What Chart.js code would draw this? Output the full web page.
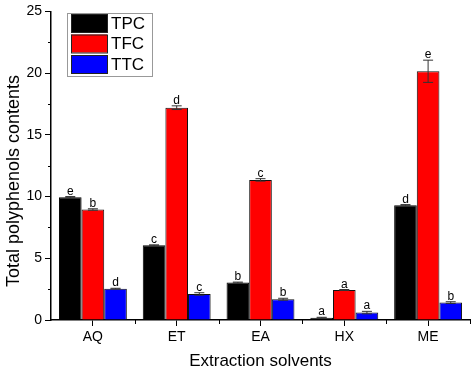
<!DOCTYPE html>
<html lang="en">
<head>
<meta charset="UTF-8" />
<title>Total polyphenols contents</title>
<script src="https://cdn.jsdelivr.net/npm/chart.js"></script>
<style>
  html, body { margin: 0; padding: 0; background: #fff; }
  #wrap { width: 474px; height: 389px; }
</style>
</head>
<body>
<div id="wrap"><canvas id="chart" width="474" height="389"></canvas></div>
<script>
  const solvents = ['AQ', 'ET', 'EA', 'HX', 'ME'];
  const seriesNames = ['TPC', 'TFC', 'TTC'];
  const tpc = [9.95, 6.05, 3.03, 0.19, 9.3];
  const tfc = [8.95, 17.2, 11.35, 2.43, 20.15];
  const ttc = [2.54, 2.11, 1.68, 0.6, 1.41];
  const tpcErr = [0.05, 0.04, 0.04, 0.03, 0.05];
  const tfcErr = [0.06, 0.15, 0.1, 0.04, 0.9];
  const ttcErr = [0.03, 0.1, 0.08, 0.1, 0.07];
  const tpcLetters = ['e', 'c', 'b', 'a', 'd'];
  const tfcLetters = ['b', 'd', 'c', 'a', 'e'];
  const ttcLetters = ['d', 'c', 'b', 'a', 'b'];
  const yTicks = [0, 5, 10, 15, 20, 25];
  const yMinorTicks = [2.5, 7.5, 12.5, 17.5, 22.5];

  const FONT = 'Arial, "Liberation Sans", sans-serif';
  const colors = ['#000000', '#ff0000', '#0000ff'];
  const errors = [tpcErr, tfcErr, ttcErr];
  const letters = [tpcLetters, tfcLetters, ttcLetters];

  // error bars, significance letters, minor ticks, y title and legend box
  const extras = {
    id: 'extras',
    afterDatasetsDraw(chart) {
      const ctx = chart.ctx;
      const y = chart.scales.y;
      ctx.save();
      chart.data.datasets.forEach((ds, i) => {
        const meta = chart.getDatasetMeta(i);
        meta.data.forEach((bar, j) => {
          const v = ds.data[j];
          const e = errors[i][j];
          const top = y.getPixelForValue(v + e);
          const bot = y.getPixelForValue(v - e);
          ctx.strokeStyle = '#333';
          ctx.lineWidth = 1;
          ctx.beginPath();
          ctx.moveTo(bar.x, top); ctx.lineTo(bar.x, bot);
          ctx.moveTo(bar.x - 5, top); ctx.lineTo(bar.x + 5, top);
          ctx.moveTo(bar.x - 5, bot); ctx.lineTo(bar.x + 5, bot);
          ctx.stroke();
          ctx.fillStyle = '#000';
          ctx.font = '12px ' + FONT;
          ctx.textAlign = 'center';
          ctx.textBaseline = 'alphabetic';
          ctx.fillText(letters[i][j], bar.x, top - 2);
        });
      });
      ctx.restore();
    },
    afterDraw(chart) {
      const ctx = chart.ctx;
      const x = chart.scales.x;
      const y = chart.scales.y;
      const area = chart.chartArea;
      ctx.save();
      ctx.strokeStyle = '#000';
      ctx.lineWidth = 1;
      ctx.beginPath();
      yMinorTicks.forEach(v => {
        const py = Math.round(y.getPixelForValue(v)) + 0.5;
        ctx.moveTo(area.left, py); ctx.lineTo(area.left - 3, py);
      });
      for (let i = 0; i < solvents.length; i++) {
        const px = Math.round((x.getPixelForValue(i) + x.getPixelForValue(i + 1)) / 2) + 0.5;
        ctx.moveTo(px, area.bottom); ctx.lineTo(px, area.bottom + 4);
      }
      ctx.stroke();

      // y title
      ctx.save();
      ctx.translate(14, 181);
      ctx.rotate(-Math.PI / 2);
      ctx.fillStyle = '#000';
      ctx.font = '18px ' + FONT;
      ctx.textAlign = 'center';
      ctx.textBaseline = 'middle';
      ctx.fillText('Total polyphenols contents', 0, 0);
      ctx.restore();

      // legend
      const lx = 67, ly = 13, lw = 85, lh = 63;
      ctx.fillStyle = '#fff';
      ctx.fillRect(lx, ly, lw, lh);
      ctx.strokeStyle = '#999';
      ctx.strokeRect(lx + 0.5, ly + 0.5, lw, lh);
      seriesNames.forEach((name, i) => {
        const sy = 14 + i * 20.5;
        ctx.fillStyle = colors[i];
        ctx.fillRect(71, sy, 36, 18);
        ctx.strokeStyle = '#222';
        ctx.strokeRect(71.5, sy + 0.5, 36, 18);
        ctx.fillStyle = '#000';
        ctx.font = '17px ' + FONT;
        ctx.textAlign = 'left';
        ctx.textBaseline = 'middle';
        ctx.fillText(name, 111, sy + 10);
      });
      ctx.restore();
    }
  };

  new Chart(document.getElementById('chart'), {
    type: 'bar',
    data: {
      labels: solvents,
      datasets: [
        { label: 'TPC', data: tpc, backgroundColor: colors[0], borderColor: '#000', borderWidth: 1 },
        { label: 'TFC', data: tfc, backgroundColor: colors[1], borderColor: '#111', borderWidth: 1 },
        { label: 'TTC', data: ttc, backgroundColor: colors[2], borderColor: '#111', borderWidth: 1 }
      ]
    },
    options: {
      responsive: false,
      animation: false,
      layout: { padding: { top: 11, right: 4, left: 0, bottom: 0 } },
      plugins: { legend: { display: false }, tooltip: { enabled: false } },
      datasets: { bar: { categoryPercentage: 0.81, barPercentage: 1 } },
      scales: {
        x: {
          grid: { display: true, drawOnChartArea: false, offset: false, tickLength: 6, color: '#000' },
          border: { display: true, color: '#000', width: 1.5 },
          ticks: { color: '#000', font: { family: FONT, size: 14 }, padding: 3 },
          title: { display: true, text: 'Extraction solvents', color: '#000',
                   font: { family: FONT, size: 17 }, padding: { top: 0, bottom: 17 } },
          afterFit(scale) { scale.height = 69; }
        },
        y: {
          min: 0,
          max: 25,
          afterBuildTicks(scale) { scale.ticks = yTicks.map(v => ({ value: v })); },
          grid: { display: true, drawOnChartArea: false, tickLength: 6, color: '#000' },
          border: { display: true, color: '#000', width: 1.5 },
          ticks: { color: '#000', font: { family: FONT, size: 14 }, padding: 3 },
          afterFit(scale) { scale.width = 51; }
        }
      }
    },
    plugins: [extras]
  });
</script>
</body>
</html>
